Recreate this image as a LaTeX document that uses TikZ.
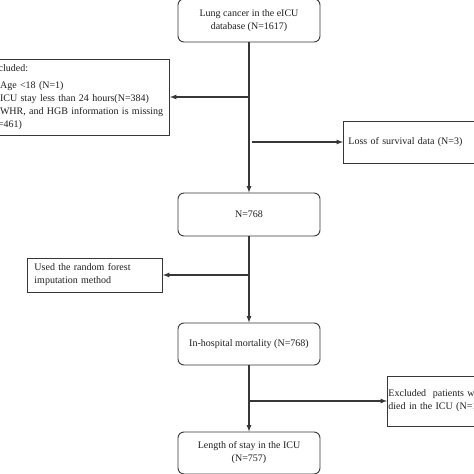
\documentclass[tikz,border=0pt]{standalone}
\usepackage{fontspec}
\setmainfont{Liberation Serif}
\usepackage{tikz}
\definecolor{lin}{RGB}{55,55,55}
\definecolor{txt}{RGB}{30,30,30}

\begin{document}
\begin{tikzpicture}[x=1pt,y=-1pt,
  every node/.style={font=\fontsize{10}{13}\selectfont,text=txt},
  roundbox/.style={draw=lin,line width=0.9pt,rounded corners=6pt,minimum width=142pt,align=center,inner sep=0pt},
  sidebox/.style={draw=lin,line width=0.9pt,align=left,inner sep=0pt},
  flow/.style={lin,line width=1.2pt,->,>=latex}]
\useasboundingbox (0,0) rectangle (474,474);
\clip (0,0) rectangle (474,474);
% main column
\node[roundbox,minimum height=43pt] (lung) at (249,20.5) {Lung cancer in the eICU\\database (N=1617)};
\node[roundbox,minimum height=43pt] (n768) at (249,214.5) {N=768};
\node[roundbox,minimum height=42pt] (mort) at (249,344) {In-hospital mortality (N=768)};
\node[roundbox,minimum height=42pt] (los) at (249,453) {Length of stay in the ICU\\(N=757)};
% side boxes
\node[sidebox,anchor=east,minimum height=76pt,text width=180pt,inner xsep=2pt] (excl) at (170,97)
  {Excluded:\\[4pt]1. Age <18 (N=1)\\2. ICU stay less than 24 hours(N=384)\\3. WHR, and HGB information is missing\\(N=461)};
\node[sidebox,anchor=west,minimum height=42pt,text width=150pt,inner xsep=5pt] (loss) at (343,142) {Loss of survival data (N=3)};
\node[sidebox,anchor=west,minimum height=34pt,text width=121pt,inner xsep=7pt] (rf) at (27,275) {Used the random forest\\imputation method};
\node[sidebox,anchor=west,minimum height=50pt,text width=120pt,inner xsep=1pt] (died) at (387,401) {Excluded\ \ patients who\\died in the ICU (N=11)};
% connectors
\coordinate (a1) at (249,97);
\coordinate (a2) at (252,142);
\coordinate (a3) at (249,275);
\coordinate (a4) at (249,401);
\draw[flow] (lung.south) -- (n768.north);
\draw[flow] (n768.south) -- (mort.north);
\draw[flow] (mort.south) -- (los.north);
\draw[flow] (a1) -- (excl.east);
\draw[flow] (a2) -- (loss.west);
\draw[flow] (a3) -- (rf.east);
\draw[flow] (a4) -- (died.west);
\end{tikzpicture}
\end{document}
